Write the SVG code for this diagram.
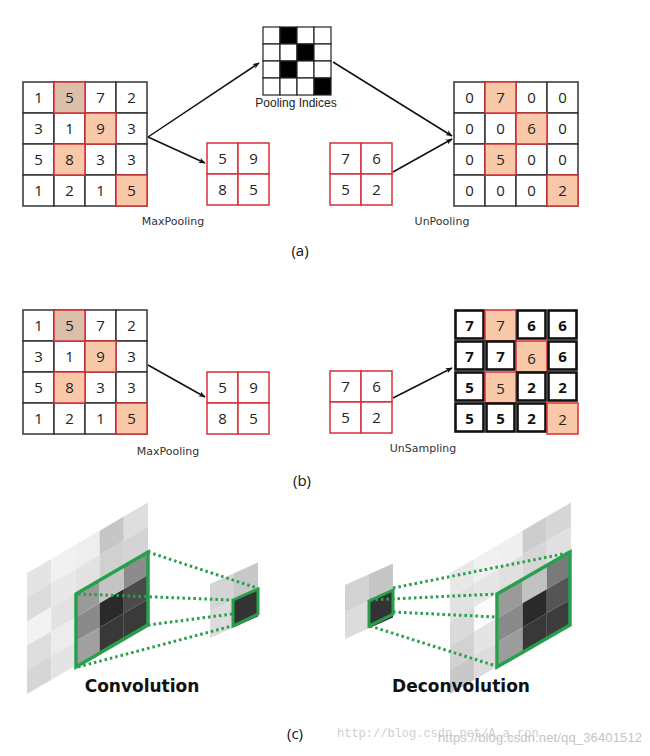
<svg xmlns="http://www.w3.org/2000/svg" width="650" height="756" viewBox="0 0 650 756">
<style>
.bg{fill:#fff}
.c{fill:#fff;stroke:#333;stroke-width:1.5}
.h{fill:#f8c8a8;stroke:#d8303a;stroke-width:1.5}
.t{fill:#dcbfa9;stroke:#d8303a;stroke-width:1.5}
.r{fill:#fff;stroke:#d8303a;stroke-width:1.5}
.k{fill:#fff;stroke:#111;stroke-width:2.6}
.kh{fill:#f8c8a8;stroke:#d8303a;stroke-width:1.5}
.pi{fill:#fff;stroke:#222;stroke-width:1.2}
.pb{fill:#000;stroke:#222;stroke-width:1.2}
.n{font-family:"Open Sans","Liberation Sans",sans-serif;font-size:15px;fill:#222;text-anchor:middle}
.nb{font-family:"Open Sans","Liberation Sans",sans-serif;font-size:15px;font-weight:bold;fill:#111;text-anchor:middle}
.lab{font-family:"DejaVu Sans",sans-serif;font-size:11px;fill:#333;text-anchor:middle}
.pil{font-family:"Liberation Sans",Arial,sans-serif;font-size:12px;fill:#222;text-anchor:middle}
.sec{font-family:"Open Sans","Liberation Sans",sans-serif;font-size:15px;fill:#111;text-anchor:middle}
.big{font-family:"DejaVu Sans",sans-serif;font-size:17px;font-weight:bold;fill:#111;text-anchor:middle}
.arr{stroke:#111;stroke-width:1.5;fill:none;marker-end:url(#ah)}
.dot{stroke:#27a04c;stroke-width:3;stroke-dasharray:2.5 3;fill:none}
.gr{fill:none;stroke:#27a04c;stroke-width:3.5}
.grs{fill:none;stroke:#27a04c;stroke-width:3}
.wm1{font-family:"Liberation Mono",monospace;font-size:12px;fill:#cfcfcf}
.wm2{font-family:"Liberation Sans",Arial,sans-serif;font-size:13px;fill:#c4c4c4}
</style>
<defs>
<marker id="ah" viewBox="0 0 10 10" refX="9" refY="5" markerWidth="7" markerHeight="7" markerUnits="userSpaceOnUse" orient="auto">
<path d="M0,1 L10,5 L0,9 L3,5 Z" fill="#111"/>
</marker>
</defs>
<rect class="bg" x="0" y="0" width="650" height="756"/>

<g id="connectors">
<line class="arr" x1="148" y1="137" x2="259" y2="63"/>
<line class="arr" x1="148" y1="137" x2="205" y2="163"/>
<line class="arr" x1="333" y1="62" x2="452" y2="136"/>
<line class="arr" x1="393" y1="172" x2="452" y2="139"/>
<line class="arr" x1="148" y1="365" x2="205" y2="397"/>
<line class="arr" x1="393" y1="398" x2="452" y2="368"/>
</g>

<g id="a-input">
<rect class="c" x="23" y="82" width="31" height="31"/><rect class="c" x="54" y="82" width="31" height="31"/><rect class="c" x="85" y="82" width="31" height="31"/><rect class="c" x="116" y="82" width="31" height="31"/>
<rect class="c" x="23" y="113" width="31" height="31"/><rect class="c" x="54" y="113" width="31" height="31"/><rect class="c" x="85" y="113" width="31" height="31"/><rect class="c" x="116" y="113" width="31" height="31"/>
<rect class="c" x="23" y="144" width="31" height="31"/><rect class="c" x="54" y="144" width="31" height="31"/><rect class="c" x="85" y="144" width="31" height="31"/><rect class="c" x="116" y="144" width="31" height="31"/>
<rect class="c" x="23" y="175" width="31" height="31"/><rect class="c" x="54" y="175" width="31" height="31"/><rect class="c" x="85" y="175" width="31" height="31"/><rect class="c" x="116" y="175" width="31" height="31"/>
<rect class="t" x="54" y="82" width="31" height="31"/><rect class="h" x="85" y="113" width="31" height="31"/><rect class="h" x="54" y="144" width="31" height="31"/><rect class="h" x="116" y="175" width="31" height="31"/>
<text class="n" x="38.5" y="103">1</text><text class="n" x="69.5" y="103">5</text><text class="n" x="100.5" y="103">7</text><text class="n" x="131.5" y="103">2</text>
<text class="n" x="38.5" y="134">3</text><text class="n" x="69.5" y="134">1</text><text class="n" x="100.5" y="134">9</text><text class="n" x="131.5" y="134">3</text>
<text class="n" x="38.5" y="165">5</text><text class="n" x="69.5" y="165">8</text><text class="n" x="100.5" y="165">3</text><text class="n" x="131.5" y="165">3</text>
<text class="n" x="38.5" y="196">1</text><text class="n" x="69.5" y="196">2</text><text class="n" x="100.5" y="196">1</text><text class="n" x="131.5" y="196">5</text>
<text class="lab" x="173" y="225">MaxPooling</text>
</g>

<g id="a-indices">
<rect class="pi" x="263" y="27" width="17" height="17"/><rect class="pb" x="280" y="27" width="17" height="17"/><rect class="pi" x="297" y="27" width="17" height="17"/><rect class="pi" x="314" y="27" width="17" height="17"/>
<rect class="pi" x="263" y="44" width="17" height="17"/><rect class="pi" x="280" y="44" width="17" height="17"/><rect class="pb" x="297" y="44" width="17" height="17"/><rect class="pi" x="314" y="44" width="17" height="17"/>
<rect class="pi" x="263" y="61" width="17" height="17"/><rect class="pb" x="280" y="61" width="17" height="17"/><rect class="pi" x="297" y="61" width="17" height="17"/><rect class="pi" x="314" y="61" width="17" height="17"/>
<rect class="pi" x="263" y="78" width="17" height="17"/><rect class="pi" x="280" y="78" width="17" height="17"/><rect class="pi" x="297" y="78" width="17" height="17"/><rect class="pb" x="314" y="78" width="17" height="17"/>
<text class="pil" x="296" y="107">Pooling Indices</text>
</g>

<g id="a-pooled">
<rect class="r" x="207" y="143" width="31" height="31"/><rect class="r" x="238" y="143" width="31" height="31"/><rect class="r" x="207" y="174" width="31" height="31"/><rect class="r" x="238" y="174" width="31" height="31"/>
<text class="n" x="222.5" y="164">5</text><text class="n" x="253.5" y="164">9</text><text class="n" x="222.5" y="195">8</text><text class="n" x="253.5" y="195">5</text>
</g>

<g id="a-small">
<rect class="r" x="330" y="143" width="31" height="31"/><rect class="r" x="361" y="143" width="31" height="31"/><rect class="r" x="330" y="174" width="31" height="31"/><rect class="r" x="361" y="174" width="31" height="31"/>
<text class="n" x="345.5" y="164">7</text><text class="n" x="376.5" y="164">6</text><text class="n" x="345.5" y="195">5</text><text class="n" x="376.5" y="195">2</text>
</g>

<g id="a-unpool">
<rect class="c" x="454" y="82" width="31" height="31"/><rect class="c" x="485" y="82" width="31" height="31"/><rect class="c" x="516" y="82" width="31" height="31"/><rect class="c" x="547" y="82" width="31" height="31"/>
<rect class="c" x="454" y="113" width="31" height="31"/><rect class="c" x="485" y="113" width="31" height="31"/><rect class="c" x="516" y="113" width="31" height="31"/><rect class="c" x="547" y="113" width="31" height="31"/>
<rect class="c" x="454" y="144" width="31" height="31"/><rect class="c" x="485" y="144" width="31" height="31"/><rect class="c" x="516" y="144" width="31" height="31"/><rect class="c" x="547" y="144" width="31" height="31"/>
<rect class="c" x="454" y="175" width="31" height="31"/><rect class="c" x="485" y="175" width="31" height="31"/><rect class="c" x="516" y="175" width="31" height="31"/><rect class="c" x="547" y="175" width="31" height="31"/>
<rect class="h" x="485" y="82" width="31" height="31"/><rect class="h" x="516" y="113" width="31" height="31"/><rect class="h" x="485" y="144" width="31" height="31"/><rect class="h" x="547" y="175" width="31" height="31"/>
<text class="n" x="469.5" y="103">0</text><text class="n" x="500.5" y="103">7</text><text class="n" x="531.5" y="103">0</text><text class="n" x="562.5" y="103">0</text>
<text class="n" x="469.5" y="134">0</text><text class="n" x="500.5" y="134">0</text><text class="n" x="531.5" y="134">6</text><text class="n" x="562.5" y="134">0</text>
<text class="n" x="469.5" y="165">0</text><text class="n" x="500.5" y="165">5</text><text class="n" x="531.5" y="165">0</text><text class="n" x="562.5" y="165">0</text>
<text class="n" x="469.5" y="196">0</text><text class="n" x="500.5" y="196">0</text><text class="n" x="531.5" y="196">0</text><text class="n" x="562.5" y="196">2</text>
<text class="lab" x="442" y="225">UnPooling</text>
</g>
<text class="sec" x="300" y="256">(a)</text>

<g id="b-input">
<rect class="c" x="23" y="310" width="31" height="31"/><rect class="c" x="54" y="310" width="31" height="31"/><rect class="c" x="85" y="310" width="31" height="31"/><rect class="c" x="116" y="310" width="31" height="31"/>
<rect class="c" x="23" y="341" width="31" height="31"/><rect class="c" x="54" y="341" width="31" height="31"/><rect class="c" x="85" y="341" width="31" height="31"/><rect class="c" x="116" y="341" width="31" height="31"/>
<rect class="c" x="23" y="372" width="31" height="31"/><rect class="c" x="54" y="372" width="31" height="31"/><rect class="c" x="85" y="372" width="31" height="31"/><rect class="c" x="116" y="372" width="31" height="31"/>
<rect class="c" x="23" y="403" width="31" height="31"/><rect class="c" x="54" y="403" width="31" height="31"/><rect class="c" x="85" y="403" width="31" height="31"/><rect class="c" x="116" y="403" width="31" height="31"/>
<rect class="t" x="54" y="310" width="31" height="31"/><rect class="h" x="85" y="341" width="31" height="31"/><rect class="h" x="54" y="372" width="31" height="31"/><rect class="h" x="116" y="403" width="31" height="31"/>
<text class="n" x="38.5" y="331">1</text><text class="n" x="69.5" y="331">5</text><text class="n" x="100.5" y="331">7</text><text class="n" x="131.5" y="331">2</text>
<text class="n" x="38.5" y="362">3</text><text class="n" x="69.5" y="362">1</text><text class="n" x="100.5" y="362">9</text><text class="n" x="131.5" y="362">3</text>
<text class="n" x="38.5" y="393">5</text><text class="n" x="69.5" y="393">8</text><text class="n" x="100.5" y="393">3</text><text class="n" x="131.5" y="393">3</text>
<text class="n" x="38.5" y="424">1</text><text class="n" x="69.5" y="424">2</text><text class="n" x="100.5" y="424">1</text><text class="n" x="131.5" y="424">5</text>
<text class="lab" x="168" y="455">MaxPooling</text>
</g>

<g id="b-pooled">
<rect class="r" x="207" y="372" width="31" height="31"/><rect class="r" x="238" y="372" width="31" height="31"/><rect class="r" x="207" y="403" width="31" height="31"/><rect class="r" x="238" y="403" width="31" height="31"/>
<text class="n" x="222.5" y="393">5</text><text class="n" x="253.5" y="393">9</text><text class="n" x="222.5" y="424">8</text><text class="n" x="253.5" y="424">5</text>
</g>

<g id="b-small">
<rect class="r" x="330" y="371" width="31" height="31"/><rect class="r" x="361" y="371" width="31" height="31"/><rect class="r" x="330" y="402" width="31" height="31"/><rect class="r" x="361" y="402" width="31" height="31"/>
<text class="n" x="345.5" y="392">7</text><text class="n" x="376.5" y="392">6</text><text class="n" x="345.5" y="423">5</text><text class="n" x="376.5" y="423">2</text>
</g>

<g id="b-unsample">
<rect class="k" x="455.5" y="310.5" width="28" height="28"/><rect class="kh" x="485" y="310" width="31" height="31"/><rect class="k" x="517.5" y="310.5" width="28" height="28"/><rect class="k" x="548.5" y="310.5" width="28" height="28"/>
<rect class="k" x="455.5" y="341.5" width="28" height="28"/><rect class="k" x="486.5" y="341.5" width="28" height="28"/><rect class="kh" x="516" y="341" width="31" height="31"/><rect class="k" x="548.5" y="341.5" width="28" height="28"/>
<rect class="k" x="455.5" y="372.5" width="28" height="28"/><rect class="kh" x="485" y="372" width="31" height="31"/><rect class="k" x="517.5" y="372.5" width="28" height="28"/><rect class="k" x="548.5" y="372.5" width="28" height="28"/>
<rect class="k" x="455.5" y="403.5" width="28" height="28"/><rect class="k" x="486.5" y="403.5" width="28" height="28"/><rect class="k" x="517.5" y="403.5" width="28" height="28"/><rect class="kh" x="547" y="403" width="31" height="31"/>
<text class="nb" x="469.5" y="331">7</text><text class="n" x="500.5" y="331">7</text><text class="nb" x="531.5" y="331">6</text><text class="nb" x="562.5" y="331">6</text>
<text class="nb" x="469.5" y="362">7</text><text class="nb" x="500.5" y="362">7</text><text class="n" x="531.5" y="364">6</text><text class="nb" x="562.5" y="362">6</text>
<text class="nb" x="469.5" y="393">5</text><text class="n" x="500.5" y="394">5</text><text class="nb" x="531.5" y="393">2</text><text class="nb" x="562.5" y="393">2</text>
<text class="nb" x="469.5" y="424">5</text><text class="nb" x="500.5" y="424">5</text><text class="nb" x="531.5" y="424">2</text><text class="n" x="562.5" y="425">2</text>
<text class="lab" x="423" y="452">UnSampling</text>
</g>
<text class="sec" x="302" y="486">(b)</text>

<g id="convolution">
<g transform="matrix(1,-0.583,0,1,27,573)">
<rect x="0" y="0" width="24.2" height="24.2" fill="#e4e4e4"/><rect x="0" y="24.2" width="24.2" height="24.2" fill="#dcdcdc"/><rect x="0" y="48.4" width="24.2" height="24.2" fill="#f2f2f2"/><rect x="0" y="72.6" width="24.2" height="24.2" fill="#dedede"/><rect x="0" y="96.8" width="24.2" height="24.2" fill="#d6d6d6"/>
<rect x="24.2" y="0" width="24.2" height="24.2" fill="#f1f1f1"/><rect x="24.2" y="24.2" width="24.2" height="24.2" fill="#e8e8e8"/><rect x="24.2" y="48.4" width="24.2" height="24.2" fill="#e2e2e2"/><rect x="24.2" y="72.6" width="24.2" height="24.2" fill="#ececec"/><rect x="24.2" y="96.8" width="24.2" height="24.2" fill="#e4e4e4"/>
<rect x="48.4" y="0" width="24.2" height="24.2" fill="#eeeeee"/><rect x="48.4" y="24.2" width="24.2" height="24.2" fill="#e2e2e2"/><rect x="48.4" y="48.4" width="24.2" height="24.2" fill="#9a9a9a"/><rect x="48.4" y="72.6" width="24.2" height="24.2" fill="#8a8a8a"/><rect x="48.4" y="96.8" width="24.2" height="24.2" fill="#a0a0a0"/>
<rect x="72.6" y="0" width="24.2" height="24.2" fill="#c6c6c6"/><rect x="72.6" y="24.2" width="24.2" height="24.2" fill="#d0d0d0"/><rect x="72.6" y="48.4" width="24.2" height="24.2" fill="#c4c4c4"/><rect x="72.6" y="72.6" width="24.2" height="24.2" fill="#2a2a2a"/><rect x="72.6" y="96.8" width="24.2" height="24.2" fill="#383838"/>
<rect x="96.8" y="0" width="24.2" height="24.2" fill="#dedede"/><rect x="96.8" y="24.2" width="24.2" height="24.2" fill="#d4d4d4"/><rect x="96.8" y="48.4" width="24.2" height="24.2" fill="#8c8c8c"/><rect x="96.8" y="72.6" width="24.2" height="24.2" fill="#4a4a4a"/><rect x="96.8" y="96.8" width="24.2" height="24.2" fill="#3a3a3a"/>
</g>
<g transform="matrix(1,-0.45,0,1,210,584)">
<rect x="0" y="0" width="24" height="27" fill="#d4d4d4"/><rect x="0" y="27" width="24" height="27" fill="#dcdcdc"/>
<rect x="24" y="0" width="24" height="27" fill="#c8c8c8"/><rect x="24" y="27" width="24" height="27" fill="#333"/>
</g>
<polygon class="gr" points="76,594 148,552 148,625 76,667"/>
<polygon class="grs" points="233,600 258,589 258,614 233,626"/>
<line class="dot" x1="148" y1="552" x2="257" y2="588"/>
<line class="dot" x1="78" y1="594" x2="232" y2="600"/>
<line class="dot" x1="148" y1="625" x2="232" y2="614"/>
<line class="dot" x1="78" y1="667" x2="232" y2="626"/>
<text class="big" x="142" y="692">Convolution</text>
</g>

<g id="deconvolution">
<g transform="matrix(1,-0.583,0,1,450,573)">
<rect x="0" y="0" width="24.2" height="24.2" fill="#e8e8e8"/><rect x="0" y="24.2" width="24.2" height="24.2" fill="#e2e2e2"/><rect x="0" y="48.4" width="24.2" height="24.2" fill="#dadada"/><rect x="0" y="72.6" width="24.2" height="24.2" fill="#d2d2d2"/><rect x="0" y="96.8" width="24.2" height="24.2" fill="#c8c8c8"/>
<rect x="24.2" y="0" width="24.2" height="24.2" fill="#f0f0f0"/><rect x="24.2" y="24.2" width="24.2" height="24.2" fill="#e6e6e6"/><rect x="24.2" y="48.4" width="24.2" height="24.2" fill="#fbfbfb"/><rect x="24.2" y="72.6" width="24.2" height="24.2" fill="#e4e4e4"/><rect x="24.2" y="96.8" width="24.2" height="24.2" fill="#dcdcdc"/>
<rect x="48.4" y="0" width="24.2" height="24.2" fill="#efefef"/><rect x="48.4" y="24.2" width="24.2" height="24.2" fill="#e0e0e0"/><rect x="48.4" y="48.4" width="24.2" height="24.2" fill="#9a9a9a"/><rect x="48.4" y="72.6" width="24.2" height="24.2" fill="#8a8a8a"/><rect x="48.4" y="96.8" width="24.2" height="24.2" fill="#9c9c9c"/>
<rect x="72.6" y="0" width="24.2" height="24.2" fill="#cdcdcd"/><rect x="72.6" y="24.2" width="24.2" height="24.2" fill="#d6d6d6"/><rect x="72.6" y="48.4" width="24.2" height="24.2" fill="#c2c2c2"/><rect x="72.6" y="72.6" width="24.2" height="24.2" fill="#2a2a2a"/><rect x="72.6" y="96.8" width="24.2" height="24.2" fill="#383838"/>
<rect x="96.8" y="0" width="24.2" height="24.2" fill="#d6d6d6"/><rect x="96.8" y="24.2" width="24.2" height="24.2" fill="#e0e0e0"/><rect x="96.8" y="48.4" width="24.2" height="24.2" fill="#7a7a7a"/><rect x="96.8" y="72.6" width="24.2" height="24.2" fill="#555555"/><rect x="96.8" y="96.8" width="24.2" height="24.2" fill="#3c3c3c"/>
</g>
<g transform="matrix(1,-0.45,0,1,345,585)">
<rect x="0" y="0" width="24" height="27" fill="#d2d2d2"/><rect x="0" y="27" width="24" height="27" fill="#dcdcdc"/>
<rect x="24" y="0" width="24" height="27" fill="#c6c6c6"/><rect x="24" y="27" width="24" height="27" fill="#333"/>
</g>
<polygon class="gr" points="497,594 570,552 570,625 497,667"/>
<polygon class="grs" points="369,601 393,590 393,614 369,626"/>
<line class="dot" x1="393" y1="588" x2="568" y2="553"/>
<line class="dot" x1="370" y1="600" x2="496" y2="594"/>
<line class="dot" x1="393" y1="612" x2="496" y2="617"/>
<line class="dot" x1="370" y1="626" x2="496" y2="666"/>
<text class="big" x="461" y="692">Deconvolution</text>
</g>

<text class="sec" x="295" y="739">(c)</text>
<text class="wm1" x="337" y="737">http://blog.csdn.net/A_a_ron</text>
<text class="wm2" x="438" y="742" textLength="204">https://blog.csdn.net/qq_36401512</text>
</svg>
